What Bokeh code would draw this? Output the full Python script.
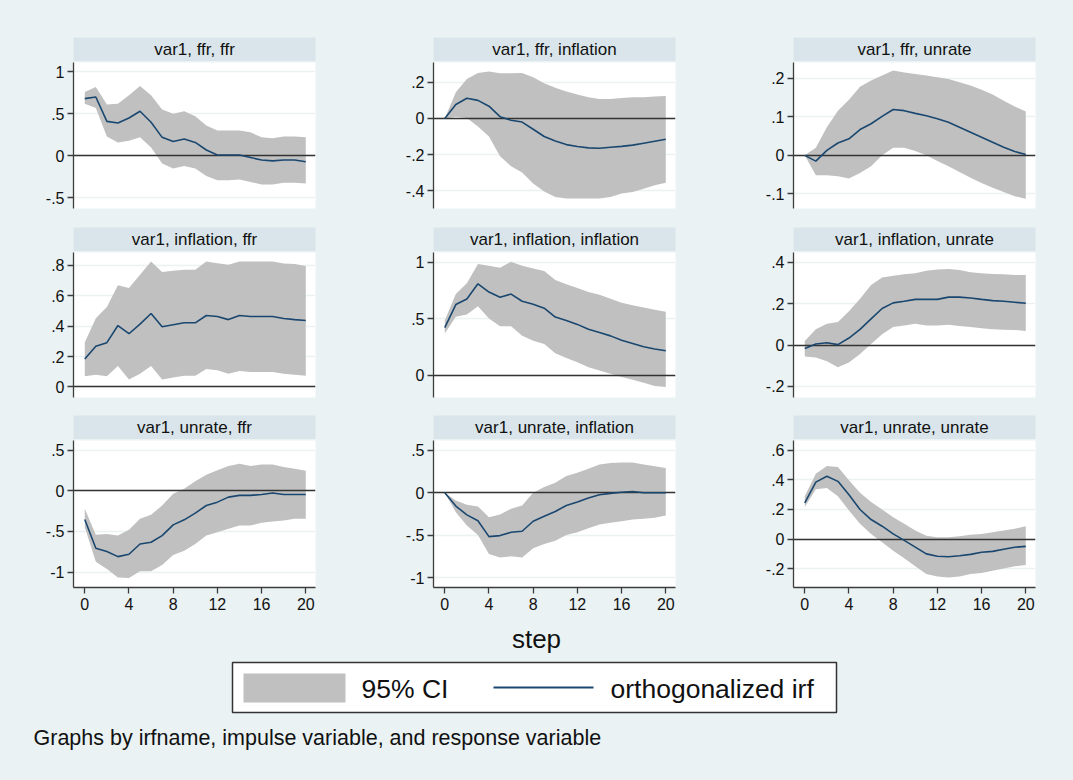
from bokeh.plotting import figure
from bokeh.models import Range1d, FixedTicker, CustomJSTickFormatter
from bokeh.layouts import column, row
from bokeh.core.properties import value
from bokeh.embed import file_html
from bokeh.resources import INLINE

# ---------------- data ----------------
steps = list(range(21))

irf_ffr_ffr = [0.68, 0.70, 0.41, 0.39, 0.45, 0.53, 0.40, 0.22, 0.17, 0.20, 0.16, 0.07, 0.01, 0.01, 0.01, -0.02, -0.05, -0.06, -0.05, -0.05, -0.07]
hi_ffr_ffr = [0.76, 0.82, 0.61, 0.62, 0.72, 0.83, 0.72, 0.55, 0.50, 0.53, 0.47, 0.36, 0.30, 0.30, 0.30, 0.28, 0.22, 0.21, 0.23, 0.23, 0.22]
lo_ffr_ffr = [0.62, 0.57, 0.23, 0.16, 0.18, 0.22, 0.10, -0.09, -0.15, -0.12, -0.15, -0.24, -0.29, -0.29, -0.28, -0.31, -0.34, -0.34, -0.32, -0.32, -0.33]

irf_ffr_inf = [0.0, 0.077, 0.112, 0.10, 0.068, 0.01, -0.01, -0.02, -0.06, -0.10, -0.125, -0.145, -0.155, -0.163, -0.165, -0.16, -0.155, -0.148, -0.137, -0.126, -0.115]
hi_ffr_inf = [0.0, 0.145, 0.218, 0.252, 0.26, 0.25, 0.25, 0.252, 0.228, 0.195, 0.17, 0.15, 0.132, 0.117, 0.108, 0.108, 0.113, 0.117, 0.117, 0.121, 0.125]
lo_ffr_inf = [0.0, 0.01, 0.002, -0.045, -0.10, -0.21, -0.265, -0.30, -0.36, -0.405, -0.435, -0.444, -0.444, -0.444, -0.444, -0.435, -0.416, -0.407, -0.39, -0.37, -0.357]

irf_ffr_unr = [0.0, -0.015, 0.013, 0.032, 0.043, 0.067, 0.082, 0.101, 0.119, 0.116, 0.109, 0.103, 0.095, 0.086, 0.073, 0.060, 0.047, 0.034, 0.021, 0.010, 0.002]
hi_ffr_unr = [0.0, 0.02, 0.073, 0.116, 0.144, 0.178, 0.194, 0.207, 0.22, 0.215, 0.211, 0.207, 0.203, 0.198, 0.19, 0.181, 0.17, 0.158, 0.142, 0.127, 0.114]
lo_ffr_unr = [0.0, -0.052, -0.052, -0.054, -0.06, -0.046, -0.028, 0.0, 0.02, 0.02, 0.011, 0.0, -0.015, -0.028, -0.043, -0.058, -0.072, -0.084, -0.095, -0.106, -0.113]

irf_inf_ffr = [0.183, 0.267, 0.291, 0.404, 0.35, 0.413, 0.483, 0.396, 0.409, 0.422, 0.422, 0.47, 0.463, 0.443, 0.47, 0.463, 0.463, 0.463, 0.45, 0.443, 0.437]
hi_inf_ffr = [0.293, 0.452, 0.526, 0.67, 0.652, 0.739, 0.826, 0.757, 0.765, 0.772, 0.772, 0.826, 0.815, 0.804, 0.826, 0.826, 0.826, 0.826, 0.813, 0.809, 0.796]
lo_inf_ffr = [0.07, 0.08, 0.07, 0.137, 0.048, 0.087, 0.137, 0.048, 0.061, 0.074, 0.074, 0.117, 0.109, 0.087, 0.104, 0.098, 0.098, 0.098, 0.087, 0.08, 0.074]

irf_inf_inf = [0.421, 0.626, 0.675, 0.81, 0.737, 0.69, 0.719, 0.655, 0.629, 0.594, 0.515, 0.485, 0.45, 0.406, 0.377, 0.348, 0.31, 0.281, 0.251, 0.231, 0.216]
hi_inf_inf = [0.485, 0.719, 0.816, 0.985, 0.971, 0.953, 1.006, 0.971, 0.947, 0.924, 0.845, 0.807, 0.772, 0.737, 0.713, 0.678, 0.643, 0.62, 0.60, 0.58, 0.561]
lo_inf_inf = [0.368, 0.518, 0.538, 0.611, 0.503, 0.433, 0.433, 0.348, 0.304, 0.275, 0.193, 0.152, 0.114, 0.07, 0.041, 0.012, -0.017, -0.041, -0.067, -0.096, -0.105]

irf_inf_unr = [-0.017, 0.005, 0.011, 0.002, 0.034, 0.076, 0.127, 0.177, 0.204, 0.212, 0.221, 0.221, 0.221, 0.232, 0.232, 0.228, 0.221, 0.215, 0.212, 0.207, 0.202]
hi_inf_unr = [0.02, 0.076, 0.103, 0.111, 0.164, 0.224, 0.291, 0.327, 0.336, 0.343, 0.347, 0.36, 0.366, 0.368, 0.363, 0.352, 0.347, 0.344, 0.343, 0.339, 0.339]
lo_inf_unr = [-0.056, -0.06, -0.079, -0.107, -0.084, -0.044, 0.005, 0.052, 0.087, 0.095, 0.103, 0.095, 0.095, 0.098, 0.092, 0.087, 0.081, 0.076, 0.074, 0.073, 0.068]

irf_unr_ffr = [-0.353, -0.707, -0.748, -0.81, -0.781, -0.654, -0.633, -0.551, -0.419, -0.357, -0.275, -0.18, -0.139, -0.077, -0.056, -0.056, -0.044, -0.027, -0.044, -0.044, -0.044]
hi_unr_ffr = [-0.221, -0.542, -0.53, -0.551, -0.48, -0.345, -0.295, -0.18, -0.036, 0.026, 0.117, 0.199, 0.253, 0.306, 0.335, 0.306, 0.323, 0.323, 0.294, 0.273, 0.249]
lo_unr_ffr = [-0.448, -0.872, -0.963, -1.066, -1.074, -0.991, -0.991, -0.913, -0.79, -0.736, -0.654, -0.551, -0.509, -0.468, -0.427, -0.427, -0.394, -0.378, -0.365, -0.345, -0.345]

irf_unr_inf = [0.0, -0.157, -0.26, -0.33, -0.516, -0.504, -0.465, -0.453, -0.335, -0.276, -0.22, -0.15, -0.11, -0.063, -0.024, -0.008, 0.005, 0.015, 0.0, 0.0, 0.0]
hi_unr_inf = [0.0, -0.09, -0.142, -0.161, -0.287, -0.256, -0.189, -0.15, 0.0, 0.067, 0.118, 0.197, 0.236, 0.283, 0.331, 0.35, 0.354, 0.354, 0.331, 0.311, 0.291]
lo_unr_inf = [0.0, -0.228, -0.386, -0.496, -0.72, -0.76, -0.748, -0.76, -0.654, -0.602, -0.563, -0.496, -0.465, -0.417, -0.374, -0.354, -0.335, -0.315, -0.307, -0.295, -0.268]

irf_unr_unr = [0.245, 0.385, 0.424, 0.39, 0.3, 0.2, 0.132, 0.087, 0.035, -0.009, -0.054, -0.1, -0.116, -0.119, -0.112, -0.103, -0.089, -0.083, -0.069, -0.055, -0.049]
hi_unr_unr = [0.29, 0.442, 0.494, 0.487, 0.397, 0.313, 0.25, 0.2, 0.148, 0.103, 0.058, 0.023, 0.012, 0.012, 0.019, 0.03, 0.035, 0.046, 0.058, 0.07, 0.087]
lo_unr_unr = [0.216, 0.336, 0.345, 0.29, 0.193, 0.103, 0.035, -0.021, -0.078, -0.13, -0.184, -0.236, -0.252, -0.259, -0.252, -0.236, -0.229, -0.214, -0.198, -0.184, -0.175]

y_ticks_ffr_ffr = [-0.5, 0, 0.5, 1]
y_ticks_ffr_inf = [-0.4, -0.2, 0, 0.2]
y_ticks_ffr_unr = [-0.1, 0, 0.1, 0.2]
y_ticks_inf_ffr = [0, 0.2, 0.4, 0.6, 0.8]
y_ticks_inf_inf = [0, 0.5, 1]
y_ticks_inf_unr = [-0.2, 0, 0.2, 0.4]
y_ticks_unr_ffr = [-1, -0.5, 0, 0.5]
y_ticks_unr_inf = [-1, -0.5, 0, 0.5]
y_ticks_unr_unr = [-0.2, 0, 0.2, 0.4, 0.6]
x_ticks = [0, 4, 8, 12, 16, 20]

x_title = "step"
legend_labels = ["95% CI", "orthogonalized irf"]
note_text = "Graphs by irfname, impulse variable, and response variable"

# ---------------- styling ----------------
BG = "#EAF2F3"
BAND = "#D9E5EA"
CI_COLOR = "#C0C0C0"
IRF_COLOR = "#1A476F"
AXIS_COLOR = "#3C3C3C"
TEXT_COLOR = "#111111"
FONT = "Liberation Sans"

panels = [
    [("var1, ffr, ffr", irf_ffr_ffr, lo_ffr_ffr, hi_ffr_ffr, y_ticks_ffr_ffr, (-0.626, 1.11)),
     ("var1, ffr, inflation", irf_ffr_inf, lo_ffr_inf, hi_ffr_inf, y_ticks_ffr_inf, (-0.499, 0.31)),
     ("var1, ffr, unrate", irf_ffr_unr, lo_ffr_unr, hi_ffr_unr, y_ticks_ffr_unr, (-0.138, 0.241))],
    [("var1, inflation, ffr", irf_inf_ffr, lo_inf_ffr, hi_inf_ffr, y_ticks_inf_ffr, (-0.070, 0.885)),
     ("var1, inflation, inflation", irf_inf_inf, lo_inf_inf, hi_inf_inf, y_ticks_inf_inf, (-0.199, 1.088)),
     ("var1, inflation, unrate", irf_inf_unr, lo_inf_unr, hi_inf_unr, y_ticks_inf_unr, (-0.254, 0.448))],
    [("var1, unrate, ffr", irf_unr_ffr, lo_unr_ffr, hi_unr_ffr, y_ticks_unr_ffr, (-1.19, 0.62)),
     ("var1, unrate, inflation", irf_unr_inf, lo_unr_inf, hi_unr_inf, y_ticks_unr_inf, (-1.114, 0.614)),
     ("var1, unrate, unrate", irf_unr_unr, lo_unr_unr, hi_unr_unr, y_ticks_unr_unr, (-0.327, 0.666))],
]

FRAME_W = 242
col_left = [73, 60, 60]
col_right = [58, 58, 38]
band_top = [37, 0, 0]
band_h = 24
frame_h = [146, 145, 147]
panel_top = 1
panel_bottom = [19, 18, 30]
TOTAL_W = sum(col_left) + 3 * FRAME_W + sum(col_right)
BOTTOM_H = 163

fmt = CustomJSTickFormatter(code="""
const v = Math.round(tick*1000)/1000;
if (v === 0) return "0";
return String(v).replace(/^(-?)0\\./, "$1.");
""")


def make_band(title, c, r):
    w = col_left[c] + FRAME_W + col_right[c]
    h = band_top[r] + band_h
    b = figure(width=w, height=h, x_range=Range1d(0, 1), y_range=Range1d(0, 1),
               x_axis_location=None, y_axis_location=None,
               toolbar_location=None, output_backend="svg",
               min_border=0, min_border_left=col_left[c], min_border_right=col_right[c],
               min_border_top=band_top[r], min_border_bottom=0,
               background_fill_color=BAND, border_fill_color=BG, outline_line_color=None)
    b.grid.visible = False
    b.text(x=[0.5], y=[0.5], text=[title], text_align="center", text_baseline="middle",
           text_font=value(FONT), text_font_size="17px", text_color=TEXT_COLOR)
    return b


def make_panel(spec, c, r):
    title, irf, lo, hi, yt, yr = spec
    w = col_left[c] + FRAME_W + col_right[c]
    h = panel_top + frame_h[r] + panel_bottom[r]
    p = figure(width=w, height=h, x_range=Range1d(-1.02, 20.88), y_range=Range1d(*yr),
               x_axis_location=("below" if r == 2 else None), y_axis_location="left",
               toolbar_location=None, output_backend="svg",
               min_border=0, min_border_left=col_left[c], min_border_right=col_right[c],
               min_border_top=panel_top, min_border_bottom=panel_bottom[r],
               background_fill_color="white", border_fill_color=BG, outline_line_color=None)
    p.varea(x=steps, y1=lo, y2=hi, fill_color=CI_COLOR, fill_alpha=1.0)
    p.hspan(y=[0], line_color="#333333", line_width=1.6)
    p.line(x=steps, y=irf, line_color=IRF_COLOR, line_width=1.6)

    yt_t = FixedTicker(ticks=yt)
    p.yaxis.ticker = yt_t
    p.yaxis.formatter = fmt
    p.ygrid.ticker = yt_t
    p.ygrid.grid_line_color = BG
    p.ygrid.grid_line_width = 1.6
    p.xgrid.visible = False
    axes = list(p.yaxis) + (list(p.xaxis) if r == 2 else [])
    for ax in axes:
        ax.axis_line_color = AXIS_COLOR
        ax.axis_line_width = 1.3
        ax.major_tick_line_color = AXIS_COLOR
        ax.major_tick_line_width = 1.3
        ax.major_tick_out = 6
        ax.major_tick_in = 0
        ax.minor_tick_out = 0
        ax.minor_tick_in = 0
        ax.major_label_text_font = FONT
        ax.major_label_text_font_size = "16px"
        ax.major_label_text_color = TEXT_COLOR
        ax.major_label_standoff = 3
    if r == 2:
        p.xaxis.ticker = FixedTicker(ticks=x_ticks)
        p.xaxis.major_label_standoff = 4
    return p


rows = []
for r in range(3):
    cells = []
    for c in range(3):
        spec = panels[r][c]
        cells.append(column(make_band(spec[0], c, r), make_panel(spec, c, r),
                            spacing=0, styles={"background-color": BG}))
    rows.append(row(*cells, spacing=0, styles={"background-color": BG}))

# bottom area: x title, legend key, note (pixel coordinates of the page)
bot = figure(width=TOTAL_W, height=BOTTOM_H, x_range=Range1d(0, TOTAL_W),
             y_range=Range1d(617 + BOTTOM_H, 617),
             x_axis_location=None, y_axis_location=None,
             toolbar_location=None, output_backend="svg", min_border=0,
             background_fill_color=BG, border_fill_color=BG, outline_line_color=None)
bot.grid.visible = False
bot.text(x=[536], y=[638], text=[x_title], text_align="center", text_baseline="middle",
         text_font=value(FONT), text_font_size="26px", text_color=TEXT_COLOR)

# legend frame and keys
bot.quad(left=[232], right=[836], top=[662], bottom=[712],
         fill_color="white", line_color="#333333", line_width=1.5)
bot.quad(left=[243], right=[345], top=[673], bottom=[702],
         fill_color=CI_COLOR, line_color=None)
bot.line(x=[493, 593], y=[687, 687], line_color=IRF_COLOR, line_width=2)
bot.text(x=[361, 610], y=[688.5, 688.5], text=legend_labels, text_align="left",
         text_baseline="middle", text_font=value(FONT), text_font_size="26.5px",
         text_color=TEXT_COLOR)

bot.text(x=[33], y=[737.5], text=[note_text], text_align="left", text_baseline="middle",
         text_font=value(FONT), text_font_size="21.5px", text_color=TEXT_COLOR)

layout = column(*rows, bot, spacing=0, styles={"background-color": BG})

open("out.html", "w").write(file_html(layout, INLINE))
